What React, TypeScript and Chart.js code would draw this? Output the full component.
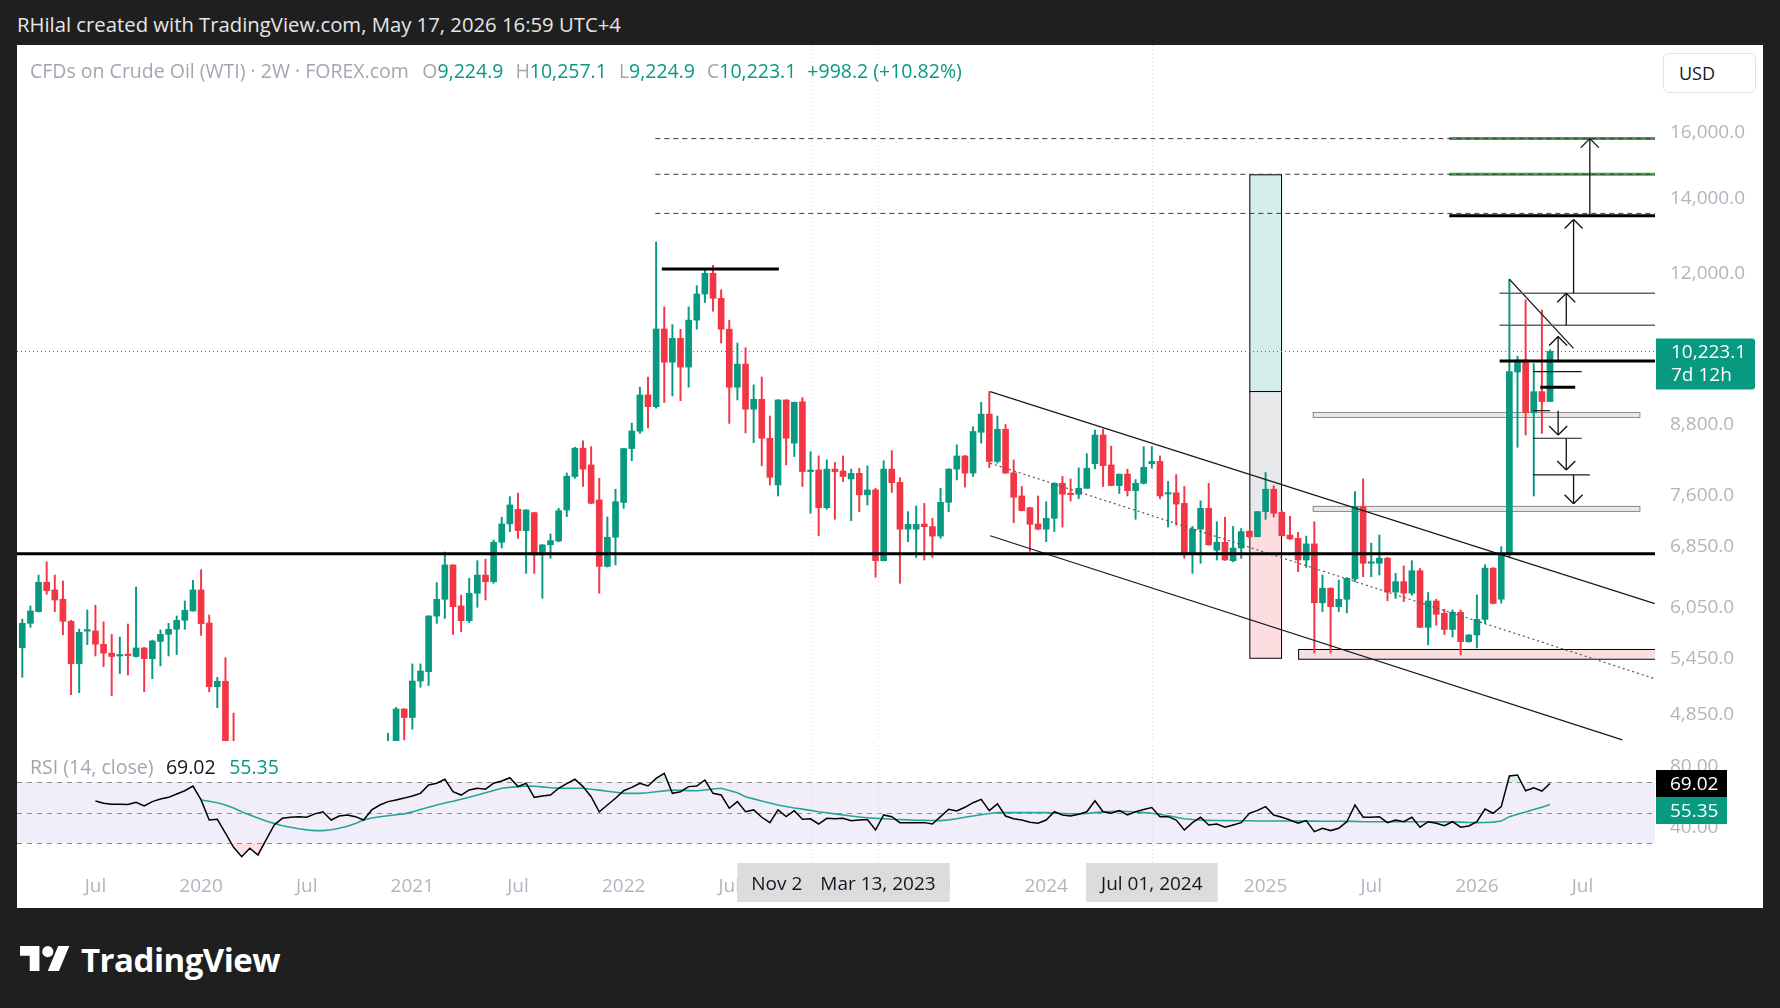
import React, { useEffect, useRef } from "react";
import { Chart, registerables } from "chart.js";

Chart.register(...registerables);

const FONT = "'Open Sans', 'Noto Sans', sans-serif";
const GREEN = "#089981";
const RED = "#f23645";
const AXIS = "#b2b5be";
const MA_COLOR = "#26a69a";

// ---- candle data (2W) ----
const opens = [
  5567, 5853, 5996, 6367, 6268, 6149, 5878, 5389, 5760, 5762,
  5607, 5506, 5474, 5485, 5468, 5565, 5444, 5640, 5722, 5782,
  5889, 6004, 6268, 5857, 5140, 5197, 4400, 3000, 1800, 2500,
  3200, 3800, 4000, 4050, 4100, 4200, 4250, 4000, 3750, 4000,
  3950, 3800, 3600, 4100, 4500, 4550, 4580, 4910, 4825, 5200,
  5300, 5940, 6149, 6598, 6066, 5885, 6225, 6462, 6375, 6912,
  7177, 7395, 7079, 7345, 6734, 6875, 6930, 7385, 7910, 8382,
  8100, 7538, 6578, 6983, 7500, 8376, 8680, 9350, 9128, 10705,
  10000, 10500, 9900, 10900, 11500, 12000, 11400, 10700, 9500, 9960,
  9080, 9267, 8555, 7774, 9254, 8470, 9220, 7990, 8017, 7420,
  8030, 8000, 7870, 7962, 7618, 7695, 6656, 8030, 7815, 7100,
  7100, 7175, 7137, 7000, 7502, 8030, 8250, 7965, 8660, 8990,
  8158, 8715, 7970, 7600, 7420, 7175, 7100, 7260, 7800, 7630,
  7627, 7720, 8120, 8612, 8100, 7765, 7950, 7683, 7800, 8120,
  8158, 7630, 7650, 7485, 6760, 7100, 7410, 6800, 6912, 6655,
  6830, 7070, 6990, 7360, 7706, 7350, 7015, 6968, 6665, 6888,
  6105, 6290, 6057, 6149, 6410, 7435, 6620, 6620, 6690, 6240,
  6375, 6226, 6520, 5805, 6128, 5975, 5780, 5988, 5637, 5715,
  5900, 6555, 6150, 6740, 9800, 10045, 9016, 9413, 9224.9,
];
const highs = [
  5905, 6065, 6462, 6638, 6462, 6384, 5890, 5785, 6016, 6074,
  5870, 5721, 5690, 5845, 6306, 5570, 5656, 5774, 5853, 5942,
  6128, 6393, 6534, 5954, 5240, 5455, 4868, 3200, 2600, 3300,
  3900, 4100, 4150, 4250, 4300, 4350, 4300, 4100, 4100, 4150,
  4150, 4000, 4200, 4550, 4590, 4672, 4927, 4912, 5386, 5386,
  5945, 6362, 6774, 6600, 6203, 6419, 6656, 6675, 6944, 7276,
  7590, 7644, 7390, 7350, 6880, 7030, 7410, 7968, 8400, 8508,
  8410, 7880, 7280, 7706, 8380, 8824, 9500, 9700, 12795, 11200,
  10800, 10700, 11200, 11700, 12100, 12200, 11600, 10900, 10400, 10300,
  9545, 9700, 8955, 9260, 9260, 9215, 9300, 8322, 8250, 8183,
  8140, 8250, 8030, 8045, 8085, 7720, 8170, 8340, 7890, 7360,
  7445, 7485, 7260, 7720, 8040, 8440, 8260, 8760, 9210, 9415,
  8955, 8800, 8183, 7750, 7425, 7600, 7510, 7810, 7910, 7870,
  8050, 8290, 8700, 8715, 8420, 7950, 8030, 7860, 8410, 8410,
  8250, 7830, 7940, 7750, 7140, 7525, 7800, 7210, 7276, 7140,
  7110, 7075, 7360, 7975, 7760, 7370, 7290, 7055, 7000, 7210,
  6462, 6295, 6397, 6430, 7670, 7870, 6900, 7015, 6700, 6485,
  6585, 6656, 6550, 6235, 6150, 6025, 6016, 6016, 5720, 6203,
  6598, 6560, 6850, 11853, 10125, 11361, 9970, 11130, 10257.1,
];
const lows = [
  5240, 5805, 5990, 6213, 5996, 5717, 5056, 5077, 5602, 5474,
  5356, 5046, 5280, 5264, 5460, 5087, 5225, 5363, 5474, 5490,
  5782, 6000, 5710, 5085, 4923, 4300, 2000, 1000, 1500, 2400,
  3100, 3600, 3850, 3950, 4000, 4100, 3900, 3600, 3700, 3800,
  3700, 3500, 3550, 4050, 4400, 4450, 4500, 4608, 4710, 5134,
  5152, 5853, 5912, 5721, 5754, 5862, 6049, 6140, 6354, 6831,
  7065, 6968, 6485, 6485, 6162, 6688, 6920, 7285, 7880, 7750,
  7480, 6226, 6570, 6598, 7410, 8171, 8640, 8740, 9100, 9206,
  9330, 9240, 9500, 10700, 11300, 11100, 10400, 8820, 9254, 8650,
  8478, 8085, 7774, 7600, 8100, 8240, 7750, 7335, 7005, 7395,
  7245, 7827, 7225, 7360, 7460, 6433, 6650, 7655, 6354, 6920,
  6700, 6665, 6700, 6968, 7360, 7854, 7740, 7910, 8470, 8055,
  8130, 7960, 7195, 7370, 6783, 7090, 6920, 7065, 7130, 7520,
  7560, 7720, 8035, 7750, 7760, 7640, 7600, 7245, 7790, 8045,
  7560, 7130, 7160, 6688, 6485, 6620, 6870, 6665, 6660, 6640,
  6688, 6968, 6990, 7245, 7280, 7000, 6950, 6508, 6565, 5508,
  5996, 5508, 5996, 5980, 6375, 6440, 6440, 6462, 6130, 6160,
  6120, 6200, 5800, 5600, 5830, 5720, 5690, 5485, 5630, 5565,
  5853, 6090, 6100, 6700, 8398, 8613, 7600, 8643, 9224.9,
];
const closes = [
  5853, 6004, 6367, 6259, 6140, 5878, 5389, 5746, 5765, 5607,
  5506, 5468, 5482, 5478, 5565, 5444, 5645, 5722, 5782, 5889,
  6012, 6268, 5849, 5140, 5197, 4400, 3000, 1800, 2500, 3200,
  3800, 4000, 4050, 4100, 4200, 4250, 4000, 3750, 4000, 3950,
  3800, 3600, 4100, 4500, 4550, 4580, 4910, 4825, 5200, 5308,
  5942, 6149, 6598, 6057, 5885, 6225, 6462, 6375, 6912, 7177,
  7462, 7079, 7385, 6734, 6875, 6935, 7375, 7915, 8382, 8030,
  7487, 6578, 6983, 7512, 8376, 8684, 9350, 9128, 10705, 10000,
  10500, 9900, 10900, 11500, 12000, 11400, 10700, 9500, 9960, 9080,
  9267, 8555, 7897, 9254, 8555, 9210, 7990, 8000, 7420, 8030,
  7990, 7910, 7960, 7618, 7695, 6656, 8030, 7810, 7100, 7170,
  7170, 7137, 7000, 7502, 8030, 8250, 7965, 8675, 8990, 8158,
  8715, 7965, 7580, 7375, 7170, 7100, 7260, 7800, 7627, 7620,
  7720, 8045, 8612, 8087, 7765, 7948, 7683, 7800, 8060, 8158,
  7600, 7650, 7475, 6760, 7100, 7410, 6875, 6912, 6665, 6830,
  7065, 6990, 7360, 7706, 7335, 7005, 6960, 6665, 6888, 6105,
  6290, 6057, 6149, 6419, 7435, 6620, 6635, 6690, 6240, 6375,
  6226, 6520, 5805, 6128, 5963, 5780, 5988, 5637, 5715, 5900,
  6555, 6097, 6740, 9808, 10045, 9016, 9413, 9224.9, 10223.1,
];

// ---- RSI (14) and its moving average ----
const rsiValues = [
  null, null, null, null, null, null, null, null, null, 57.6,
  56.1, 55.5, 55.5, 55.3, 56.8, 54.4, 57.2, 58.9, 60.0, 62.2,
  64.3, 67.4, 58.3, 45.2, 45.7, 36.6, 27.4, 21.3, 26.8, 22.4,
  32.2, 42, 46.3, 47, 47.4, 47, 49.2, 50.6, 45.2, 47.8,
  48.5, 47.4, 45.2, 51.8, 55, 57.2, 58.3, 59.5, 60.9, 62.6,
  68.1, 69.2, 71.8, 63.7, 61.5, 64.8, 65.9, 65.3, 69.2, 70.7,
  72.8, 67, 69.2, 60, 60.9, 61.5, 65.9, 69, 71.8, 67,
  60.4, 50.6, 55, 59.4, 64.3, 66.5, 69.2, 67.4, 72.4, 75.7,
  62.6, 63.7, 67, 67.4, 71.3, 62.6, 61.5, 52.9, 57.2, 50.6,
  51.8, 47, 43.5, 51.8, 47.4, 51.3, 45.7, 46, 42.6, 46.3,
  46, 46.3, 44.8, 45.2, 45.5, 38.7, 48.5, 47.4, 43.5, 43.5,
  43.5, 43.5, 42.6, 47.4, 52.2, 51.1, 53.5, 56.5, 58.7, 51.3,
  55.7, 47.8, 46, 45.2, 43.7, 43.1, 45.2, 50.6, 48.5, 47.8,
  49, 50.6, 57.8, 50.6, 49.6, 51.3, 48.5, 50.6, 52, 53.3,
  47.4, 47.4, 45.2, 38.7, 43.5, 47, 42, 42.6, 40.5, 42,
  43.5, 49.6, 51.5, 53.9, 48.5, 47, 45.2, 43.1, 44.8, 37.6,
  39.8, 38.3, 39.8, 44.1, 55, 47, 47, 47.4, 43.5, 45.2,
  44.1, 47, 40.5, 44.1, 43.1, 41.5, 44.1, 40.5, 41.3, 44.1,
  52.4, 49.6, 53.9, 73.9, 74.6, 64.3, 66.3, 64.1, 69.02,
];
const rsiMaValues = [
  null, null, null, null, null, null, null, null, null, null,
  null, null, null, null, null, null, null, null, null, null,
  null, null, 58.3, 57.5, 56.5, 55, 53, 50.6, 48.5, 46.5,
  44.5, 43, 41.5, 40.5, 39.5, 38.8, 38.3, 38.3, 38.8, 39.8,
  41.2, 43, 45.2, 46.5, 47.3, 48, 48.6, 49.2, 50.5, 52,
  53.5, 55, 56.3, 57.5, 58.8, 60, 61.5, 63, 64.5, 65.9,
  66.5, 67, 67.4, 67.2, 66.8, 66.3, 65.9, 65.9, 65.9, 65.9,
  65.3, 64.7, 64, 63.3, 62.6, 62.6, 62.6, 63, 63.6, 64.2,
  64.8, 64.6, 64.4, 64.3, 64.8, 65.4, 65.9, 64.5, 63, 60.4,
  59, 57.6, 56.3, 55, 54, 53, 52.3, 51.5, 50.6, 49.9,
  49.2, 48.5, 47.8, 47.2, 46.7, 46.3, 46, 45.7, 45.5, 45.3,
  45.1, 45, 44.9, 44.8, 45.3, 46, 47, 47.8, 48.6, 49.5,
  50, 50, 50, 50, 50, 50, 50, 49.8, 49.5, 49.3,
  49.2, 49.5, 50, 50.5, 50.8, 51.1, 50.8, 50.4, 50, 49.6,
  48.8, 48, 47, 46, 45.5, 45.2, 45, 44.9, 44.8, 44.8,
  44.7, 44.7, 44.6, 44.6, 44.6, 44.6, 44.6, 44.5, 44.5, 44.5,
  44.4, 44.4, 44.4, 44.3, 44.3, 44.1, 44.1, 44.1, 44.1, 44.1,
  44.1, 44.1, 44.1, 44.1, 44, 44, 44, 43.8, 43.6, 43.5,
  43.6, 43.8, 44.5, 47.4, 49, 50.5, 52, 53.6, 55.35,
];

// ---- axis ticks ----
const priceTicks = [16000, 14000, 12000, 8800, 7600, 6850, 6050, 5450, 4850];
const rsiTicks = [80, 40];
const timeTickIdx = [9, 22, 35, 48, 61, 74, 87, 100, 113, 126, 139, 153, 166, 179, 192];
const timeTickLabels = ["Jul", "2020", "Jul", "2021", "Jul", "2022", "Jul", "2023", "Jul", "2024", "Jul", "2025", "Jul", "2026", "Jul"];

// ---- drawings (candle index, price) ----
const thickSegments = [
  [-1, 6750, 201, 6750],
  [78.7, 12106, 93.1, 12106],
  [175.6, 13504, 201, 13504],
  [181.8, 10025, 201, 10025],
  [186.8, 9500, 191.1, 9500],
];
const thinSegments = [
  [119.1, 9415, 200.9, 6095],
  [119.1, 7005, 196.9, 4608],
  [183, 11853, 190.9, 10288],
  [185.9, 9808, 191.9, 9808],
  [185.9, 9053, 188, 9053],
  [185.9, 8555, 191.9, 8555],
  [185.9, 7935, 192.9, 7935],
];
const grayLevelSegments = [
  [181.8, 11518, 201, 11518],
  [181.8, 10786, 201, 10786],
];
const dottedSegments = [[119.1, 8128, 200.7, 5230]];
const dashedLevels = [15817, 14701, 13568];
const dashedStart = 77.9;
const greenLevels = [15817, 14701];
const greenStart = 175.6;
const arrowsUp = [
  [189, 10025, 10540],
  [190, 10786, 11518],
  [190.9, 11518, 13400],
  [192.9, 13504, 15817],
];
const arrowsDown = [
  [189, 9053, 8613],
  [190, 8555, 8017],
  [190.9, 7935, 7480],
];
const grayZones = [
  [158.8, 9029, 199, 8937],
  [158.8, 7447, 199, 7370],
];
const pinkZones = [[157, 5553, 201, 5443]];
const positionBox = { x1: 151, x2: 154.9, target: 14701, reached: 9415, entry: 7360, stop: 5454 };
const markerIdx = [97, 105.3, 139];
const rangeLabels = { startText: "Nov 2", endText: "Mar 13, 2023", endIdx: 105.3, singleText: "Jul 01, 2024", singleIdx: 139 };

const X_MIN = -0.652;
const X_MAX = 200.92;
const P_MIN = 4598;
const P_MAX = 19165;
const R_MIN = 15.2;
const R_MAX = 94.15;

const fmtPrice = (v: number) =>
  v.toLocaleString("en-US", { minimumFractionDigits: 1, maximumFractionDigits: 1 });

function seg(ctx: CanvasRenderingContext2D, x1: number, y1: number, x2: number, y2: number) {
  ctx.beginPath();
  ctx.moveTo(x1, y1);
  ctx.lineTo(x2, y2);
  ctx.stroke();
}

const mainPlugin = {
  id: "mainDraw",
  beforeDatasetsDraw(chart: any) {
    const { ctx, chartArea: a } = chart;
    const X = (v: number) => chart.scales.x.getPixelForValue(v);
    const Y = (v: number) => chart.scales.y.getPixelForValue(v);
    ctx.save();
    ctx.beginPath();
    ctx.rect(a.left, a.top, a.right - a.left, a.bottom - a.top);
    ctx.clip();
    ctx.strokeStyle = "#d4d4d4";
    ctx.lineWidth = 1;
    ctx.setLineDash([1, 3]);
    markerIdx.forEach((m) => {
      const x = Math.round(X(m)) + 0.5;
      seg(ctx, x, a.top, x, a.bottom);
    });
    ctx.setLineDash([]);
    const b = positionBox;
    const bx1 = X(b.x1), bx2 = X(b.x2);
    ctx.fillStyle = "rgba(8,153,129,0.17)";
    ctx.fillRect(bx1, Y(b.target), bx2 - bx1, Y(b.reached) - Y(b.target));
    ctx.fillStyle = "rgba(120,123,134,0.17)";
    ctx.fillRect(bx1, Y(b.reached), bx2 - bx1, Y(b.entry) - Y(b.reached));
    ctx.fillStyle = "rgba(242,54,69,0.17)";
    ctx.fillRect(bx1, Y(b.entry), bx2 - bx1, Y(b.stop) - Y(b.entry));
    ctx.strokeStyle = "#000";
    ctx.lineWidth = 1;
    ctx.strokeRect(bx1 + 0.5, Y(b.target) + 0.5, bx2 - bx1, Y(b.stop) - Y(b.target));
    seg(ctx, bx1, Y(b.reached), bx2, Y(b.reached));
    grayZones.forEach(([x1, p1, x2, p2]) => {
      ctx.fillStyle = "#e8e8e8";
      ctx.fillRect(X(x1), Y(p1), X(x2) - X(x1), Y(p2) - Y(p1));
      ctx.strokeStyle = "#8c8c8c";
      ctx.strokeRect(X(x1) + 0.5, Y(p1) + 0.5, X(x2) - X(x1), Y(p2) - Y(p1));
    });
    pinkZones.forEach(([x1, p1, x2, p2]) => {
      ctx.fillStyle = "#f7dfe0";
      ctx.fillRect(X(x1), Y(p1), X(x2) - X(x1), Y(p2) - Y(p1));
      ctx.strokeStyle = "#000";
      ctx.strokeRect(X(x1) + 0.5, Y(p1) + 0.5, X(x2) - X(x1), Y(p2) - Y(p1));
    });
    ctx.restore();
  },
  afterDatasetsDraw(chart: any) {
    const { ctx, chartArea: a } = chart;
    const X = (v: number) => chart.scales.x.getPixelForValue(v);
    const Y = (v: number) => chart.scales.y.getPixelForValue(v);
    ctx.save();
    ctx.beginPath();
    ctx.rect(a.left, a.top, a.right - a.left, a.bottom - a.top);
    ctx.clip();
    ctx.strokeStyle = "#43a047";
    ctx.lineWidth = 3;
    greenLevels.forEach((p) => seg(ctx, X(greenStart), Y(p), a.right, Y(p)));
    ctx.strokeStyle = "#3c3c3c";
    ctx.lineWidth = 1;
    ctx.setLineDash([5, 4]);
    dashedLevels.forEach((p) => seg(ctx, X(dashedStart), Y(p), a.right, Y(p)));
    ctx.setLineDash([2, 3]);
    ctx.strokeStyle = "#555";
    ctx.lineWidth = 1.2;
    dottedSegments.forEach(([x1, p1, x2, p2]) => seg(ctx, X(x1), Y(p1), X(x2), Y(p2)));
    ctx.setLineDash([]);
    ctx.strokeStyle = "#1a1a1a";
    ctx.lineWidth = 1.2;
    thinSegments.forEach(([x1, p1, x2, p2]) => seg(ctx, X(x1), Y(p1), X(x2), Y(p2)));
    ctx.strokeStyle = "#666";
    ctx.lineWidth = 1.5;
    grayLevelSegments.forEach(([x1, p1, x2, p2]) => seg(ctx, X(x1), Y(p1), X(x2), Y(p2)));
    ctx.strokeStyle = "#000";
    ctx.lineWidth = 3;
    thickSegments.forEach(([x1, p1, x2, p2]) => seg(ctx, X(x1), Y(p1), X(x2), Y(p2)));
    ctx.lineWidth = 1.3;
    ctx.strokeStyle = "#111";
    const head = (x: number, y: number, dir: number) => {
      seg(ctx, x - 9, y + 9 * dir, x, y);
      seg(ctx, x + 9, y + 9 * dir, x, y);
    };
    arrowsUp.forEach(([i, p1, p2]) => {
      const x = X(i);
      seg(ctx, x, Y(p1), x, Y(p2));
      head(x, Y(p2), 1);
    });
    arrowsDown.forEach(([i, p1, p2]) => {
      const x = X(i);
      seg(ctx, x, Y(p1), x, Y(p2));
      head(x, Y(p2), -1);
    });
    const lp = closes[closes.length - 1];
    ctx.strokeStyle = GREEN;
    ctx.lineWidth = 1;
    ctx.setLineDash([1, 3]);
    const yl = Math.round(Y(lp)) + 0.5;
    seg(ctx, a.left, yl, a.right, yl);
    ctx.restore();
  },
  afterDraw(chart: any) {
    const { ctx, chartArea: a } = chart;
    const lp = closes[closes.length - 1];
    const y = chart.scales.y.getPixelForValue(lp);
    ctx.save();
    ctx.fillStyle = GREEN;
    ctx.beginPath();
    (ctx as any).roundRect(a.right + 1, y - 13, 99, 51, [0, 3, 3, 0]);
    ctx.fill();
    ctx.fillStyle = "#fff";
    ctx.font = `19px ${FONT}`;
    ctx.textBaseline = "middle";
    ctx.textAlign = "left";
    ctx.fillText(fmtPrice(lp), a.right + 16, y + 1);
    ctx.fillText("7d 12h", a.right + 16, y + 24);
    ctx.restore();
  },
};

const rsiPlugin = {
  id: "rsiDraw",
  beforeDatasetsDraw(chart: any) {
    const { ctx, chartArea: a } = chart;
    const X = (v: number) => chart.scales.x.getPixelForValue(v);
    const Y = (v: number) => chart.scales.y.getPixelForValue(v);
    ctx.save();
    ctx.fillStyle = "rgba(126,87,194,0.1)";
    ctx.fillRect(a.left, Y(70), a.right - a.left, Y(30) - Y(70));
    ctx.strokeStyle = "#8a8d96";
    ctx.lineWidth = 1;
    ctx.setLineDash([5, 5]);
    [70, 50, 30].forEach((v) => {
      const y = Math.round(Y(v)) + 0.5;
      seg(ctx, a.left, y, a.right, y);
    });
    ctx.strokeStyle = "#d4d4d4";
    ctx.setLineDash([1, 3]);
    markerIdx.forEach((m) => {
      const x = Math.round(X(m)) + 0.5;
      seg(ctx, x, a.top, x, a.bottom);
    });
    ctx.restore();
  },
  afterDraw(chart: any) {
    const { ctx, chartArea: a } = chart;
    const X = (v: number) => chart.scales.x.getPixelForValue(v);
    const Y = (v: number) => chart.scales.y.getPixelForValue(v);
    ctx.save();
    ctx.font = `19px ${FONT}`;
    ctx.textBaseline = "middle";
    const r = rsiValues[rsiValues.length - 1] as number;
    const m = rsiMaValues[rsiMaValues.length - 1] as number;
    const h = 27;
    const y1 = Y(r);
    const y2 = Math.max(Y(m), y1 + h);
    ctx.fillStyle = "#000";
    ctx.fillRect(a.right + 1, y1 - h / 2, 71, h);
    ctx.fillStyle = GREEN;
    ctx.fillRect(a.right + 1, y2 - h / 2, 71, h);
    ctx.fillStyle = "#fff";
    ctx.textAlign = "left";
    ctx.fillText(r.toFixed(2), a.right + 15, y1 + 1);
    ctx.fillText(m.toFixed(2), a.right + 15, y2 + 1);
    const ty = a.bottom + 19;
    const boxTop = a.bottom - 3;
    const boxH = 39;
    const wEnd = ctx.measureText(rangeLabels.endText).width;
    const wStart = ctx.measureText(rangeLabels.startText).width;
    const endC = X(rangeLabels.endIdx);
    const endL = endC - wEnd / 2;
    const startR = endL - 18;
    const startL = startR - wStart;
    ctx.fillStyle = "#dcdcdc";
    ctx.fillRect(startL - 14, boxTop, endL + wEnd + 14 - (startL - 14), boxH);
    const wSingle = ctx.measureText(rangeLabels.singleText).width;
    const sc = X(rangeLabels.singleIdx);
    ctx.fillRect(sc - wSingle / 2 - 15, boxTop, wSingle + 30, boxH);
    ctx.fillStyle = "#131722";
    ctx.fillText(rangeLabels.startText, startL, ty);
    ctx.fillText(rangeLabels.endText, endL, ty);
    ctx.fillText(rangeLabels.singleText, sc - wSingle / 2, ty);
    ctx.restore();
  },
};

export default function App() {
  const mainRef = useRef<HTMLCanvasElement>(null);
  const rsiRef = useRef<HTMLCanvasElement>(null);

  useEffect(() => {
    document.body.style.margin = "0";
    const idx = opens.map((_, i) => i);
    const colors = idx.map((i) => (closes[i] >= opens[i] ? GREEN : RED));
    const main = new Chart(mainRef.current as HTMLCanvasElement, {
      type: "bar",
      data: {
        datasets: [
          {
            data: idx.map((i) => ({ x: i, y: [lows[i], highs[i]] })) as any,
            backgroundColor: colors,
            barThickness: 1.3,
            grouped: false,
            order: 2,
          } as any,
          {
            data: idx.map((i) => ({ x: i, y: [opens[i], closes[i]] })) as any,
            backgroundColor: colors,
            barThickness: 6,
            minBarLength: 1.5,
            grouped: false,
            order: 1,
          } as any,
        ],
      },
      options: {
        animation: false,
        responsive: false,
        maintainAspectRatio: false,
        layout: { padding: 0 },
        plugins: { legend: { display: false }, tooltip: { enabled: false } },
        scales: {
          x: { type: "linear", min: X_MIN, max: X_MAX, display: false, offset: false } as any,
          y: {
            type: "logarithmic",
            position: "right",
            min: P_MIN,
            max: P_MAX,
            grid: { display: false, drawTicks: false },
            border: { display: false },
            afterBuildTicks: (s: any) => {
              s.ticks = priceTicks.map((v) => ({ value: v }));
            },
            afterFit: (s: any) => {
              s.width = 108;
              s.paddingTop = 0;
              s.paddingBottom = 0;
            },
            ticks: {
              autoSkip: false,
              color: AXIS,
              font: { family: FONT, size: 19 },
              padding: 15,
              crossAlign: "near",
              callback: (v: any) => fmtPrice(Number(v)),
            },
          } as any,
        },
      },
      plugins: [mainPlugin],
    });

    const rsiChart = new Chart(rsiRef.current as HTMLCanvasElement, {
      type: "line",
      data: {
        datasets: [
          {
            data: idx.map((i) => ({ x: i, y: rsiValues[i] })) as any,
            borderColor: "#000",
            borderWidth: 1.5,
            pointRadius: 0,
            fill: { target: { value: 30 }, above: "rgba(0,0,0,0)", below: "rgba(242,54,69,0.15)" },
          } as any,
          {
            data: idx.map((i) => ({ x: i, y: rsiValues[i] })) as any,
            borderColor: "rgba(0,0,0,0)",
            borderWidth: 0,
            pointRadius: 0,
            fill: { target: { value: 70 }, above: "rgba(8,153,129,0.15)", below: "rgba(0,0,0,0)" },
          } as any,
          {
            data: idx.map((i) => ({ x: i, y: rsiMaValues[i] })) as any,
            borderColor: MA_COLOR,
            borderWidth: 1.6,
            pointRadius: 0,
            fill: false,
          } as any,
        ],
      },
      options: {
        animation: false,
        responsive: false,
        maintainAspectRatio: false,
        layout: { padding: { top: 4, left: 0, right: 0, bottom: 0 } },
        plugins: { legend: { display: false }, tooltip: { enabled: false } },
        scales: {
          x: {
            type: "linear",
            min: X_MIN,
            max: X_MAX,
            offset: false,
            grid: { display: false, drawTicks: false },
            border: { display: false },
            afterBuildTicks: (s: any) => {
              s.ticks = timeTickIdx.map((v) => ({ value: v }));
            },
            afterFit: (s: any) => {
              s.height = 42;
              s.paddingLeft = 0;
              s.paddingRight = 0;
            },
            ticks: {
              autoSkip: false,
              maxRotation: 0,
              minRotation: 0,
              color: AXIS,
              font: { family: FONT, size: 19 },
              padding: 9,
              callback: (_v: any, i: number) => timeTickLabels[i],
            },
          } as any,
          y: {
            type: "linear",
            position: "right",
            min: R_MIN,
            max: R_MAX,
            grid: { display: false, drawTicks: false },
            border: { display: false },
            afterBuildTicks: (s: any) => {
              s.ticks = rsiTicks.map((v) => ({ value: v }));
            },
            afterFit: (s: any) => {
              s.width = 108;
              s.paddingTop = 0;
              s.paddingBottom = 0;
            },
            ticks: {
              autoSkip: false,
              color: AXIS,
              font: { family: FONT, size: 19 },
              padding: 15,
              crossAlign: "near",
              callback: (v: any) => Number(v).toFixed(2),
            },
          } as any,
        },
      },
      plugins: [rsiPlugin],
    });

    return () => {
      main.destroy();
      rsiChart.destroy();
    };
  }, []);

  const n = closes.length;
  const o = opens[n - 1];
  const hi = highs[n - 1];
  const lo = lows[n - 1];
  const c = closes[n - 1];
  const chg = c - closes[n - 2];
  const pct = (chg / closes[n - 2]) * 100;
  const lastRsi = rsiValues[n - 1] as number;
  const lastMa = rsiMaValues[n - 1] as number;

  const titleGray = "#a3a6af";
  return (
    <div
      style={{
        position: "fixed",
        left: 0,
        top: 0,
        width: 1780,
        height: 1008,
        background: "#1f1f1f",
        overflow: "hidden",
        fontFamily: FONT,
      }}
    >
      <div style={{ position: "absolute", left: 17, top: 11, color: "#e6e6e6", fontSize: 20.3, lineHeight: "26px", whiteSpace: "nowrap" }}>
        RHilal created with TradingView.com, May 17, 2026 16:59 UTC+4
      </div>
      <div style={{ position: "absolute", left: 17, top: 45, width: 1746, height: 863, background: "#fff" }}>
        <canvas ref={mainRef} width={1746} height={696} style={{ position: "absolute", left: 0, top: 0, width: 1746, height: 696 }} />
        <canvas ref={rsiRef} width={1746} height={167} style={{ position: "absolute", left: 0, top: 696, width: 1746, height: 167 }} />
        <div style={{ position: "absolute", left: 13, top: 13, fontSize: 19.5, lineHeight: "26px", color: titleGray, whiteSpace: "nowrap", display: "flex" }}>
          <span>CFDs on Crude Oil (WTI) · 2W · FOREX.com</span>
          <span style={{ marginLeft: 13.5 }}>O</span>
          <span style={{ color: GREEN }}>{fmtPrice(o)}</span>
          <span style={{ marginLeft: 12 }}>H</span>
          <span style={{ color: GREEN }}>{fmtPrice(hi)}</span>
          <span style={{ marginLeft: 12 }}>L</span>
          <span style={{ color: GREEN }}>{fmtPrice(lo)}</span>
          <span style={{ marginLeft: 12 }}>C</span>
          <span style={{ color: GREEN }}>{fmtPrice(c)}</span>
          <span style={{ marginLeft: 11, color: GREEN }}>
            {(chg >= 0 ? "+" : "") + fmtPrice(chg) + " (" + (pct >= 0 ? "+" : "") + pct.toFixed(2) + "%)"}
          </span>
        </div>
        <div
          style={{
            position: "absolute",
            left: 1646,
            top: 8,
            width: 93,
            height: 40,
            boxSizing: "border-box",
            border: "1px solid #e0e3eb",
            borderRadius: 6,
            fontSize: 18,
            lineHeight: "38px",
            paddingLeft: 15,
            color: "#131722",
            background: "#fff",
          }}
        >
          USD
        </div>
        <div style={{ position: "absolute", left: 13, top: 709, fontSize: 19.5, lineHeight: "26px", whiteSpace: "nowrap", display: "flex" }}>
          <span style={{ color: titleGray }}>RSI (14, close)</span>
          <span style={{ marginLeft: 12.5, color: "#131722" }}>{lastRsi.toFixed(2)}</span>
          <span style={{ marginLeft: 13.5, color: GREEN }}>{lastMa.toFixed(2)}</span>
        </div>
      </div>
      <div style={{ position: "absolute", left: 20, top: 940, display: "flex", alignItems: "center" }}>
        <svg width="50" height="28" viewBox="0 0 36 20">
          <path d="M14 18H7V7H0V0h14v18z M28 18h-8l7.5-18h8L28 18z" fill="#fff" />
          <circle cx="20" cy="4" r="4" fill="#fff" />
        </svg>
        <span style={{ marginLeft: 11, color: "#fff", fontSize: 33, fontWeight: 700, letterSpacing: -0.5, lineHeight: "40px" }}>TradingView</span>
      </div>
    </div>
  );
}
